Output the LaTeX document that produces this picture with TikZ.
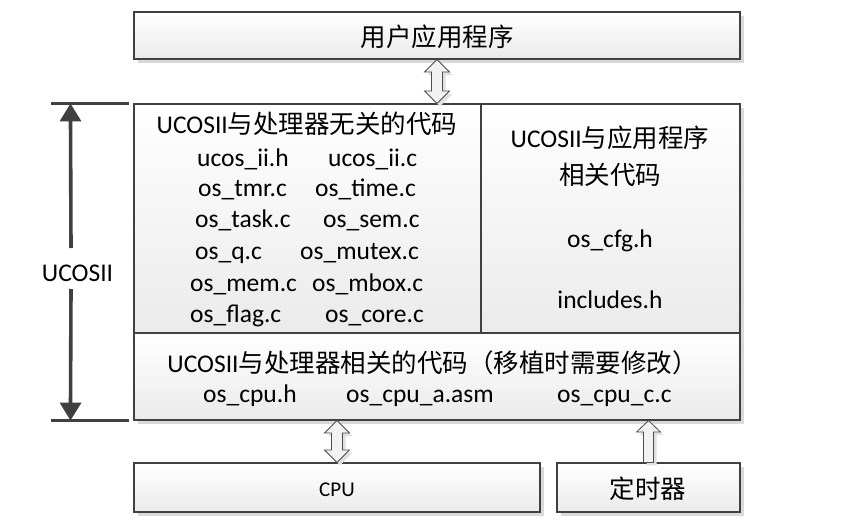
\documentclass[tikz,border=0pt]{standalone}
\usepackage{fontspec}
\setmainfont{Carlito}
\newfontfamily\cjk{Noto Sans CJK SC}
\usetikzlibrary{arrows.meta,calc,shadows}
\tikzset{
  frame/.style={draw=black!75, line width=1.1pt, top color=white, bottom color=black!8,
    inner sep=0pt, drop shadow={shadow xshift=4pt, shadow yshift=-4pt, fill=black!15, opacity=1}},
  txt/.style={inner sep=0pt, anchor=base, font=\fontsize{25.5}{30}\selectfont},
  txtw/.style={txt, anchor=base west},
  blockarrow/.style={draw=black!70, line width=0.8pt, fill=black!5, line join=miter,
    drop shadow={shadow xshift=3pt, shadow yshift=-3pt, fill=black!12, opacity=1}},
  dimbar/.style={draw=black!75, line width=3.6pt, line cap=butt},
  dimarrow/.style={draw=black!75, line width=3.6pt, -{Triangle[length=18pt,width=21pt]}},
}
\newcommand\dblarrow[2]{%
  \path[blockarrow] (#1) -- ($(#1)+(12.5,12.5)$) -- ($(#1)+(5.5,12.5)$) -- ($(#2)+(5.5,-12.5)$)
    -- ($(#2)+(12.5,-12.5)$) -- (#2) -- ($(#2)+(-12.5,-12.5)$) -- ($(#2)+(-5.5,-12.5)$)
    -- ($(#1)+(-5.5,12.5)$) -- ($(#1)+(-12.5,12.5)$) -- cycle;}
\newcommand\singlearrow[2]{%
  \path[blockarrow] (#1) -- ($(#1)+(12,11.5)$) -- ($(#1)+(5,11.5)$) -- ($(#2)+(5,0)$)
    -- ($(#2)+(-5,0)$) -- ($(#1)+(-5,11.5)$) -- ($(#1)+(-12,11.5)$) -- cycle;}
\begin{document}
\begin{tikzpicture}[x=1pt,y=-1pt]
\useasboundingbox[fill=white] (0,0) rectangle (862,532);

% boxes
\node[frame, minimum width=606pt, minimum height=47pt] (app) at (437,35.5) {};
\node[frame, minimum width=347pt, minimum height=229pt] (indep) at (307.5,218.5) {};
\node[frame, minimum width=259pt, minimum height=229pt] (appdep) at (610.5,218.5) {};
\node[frame, minimum width=606pt, minimum height=87pt] (port) at (437,376.5) {};
\node[frame, minimum width=406pt, minimum height=49pt] (cpu) at (337,487.5) {};
\node[frame, minimum width=183pt, minimum height=49pt] (timer) at (648.5,487.5) {};

% connectors
\dblarrow{app.south}{app.south |- indep.north}
\dblarrow{cpu.north |- port.south}{cpu.north}
\singlearrow{timer.north |- port.south}{timer.north}

% texts
\node[txt] (tapp) at (437,47) {\cjk 用户应用程序};
\node[txt] (hindep) at (307,134) {UCOSII{\cjk 与处理器无关的代码}};
\node[txtw] (f1a) at (197,166) {ucos\_ii.h};
\node[txtw] (f1b) at (328,166) {ucos\_ii.c};
\node[txtw] (f2a) at (198,196) {os\_tmr.c};
\node[txtw] (f2b) at (315,196) {os\_time.c};
\node[txtw] (f3a) at (195,227) {os\_task.c};
\node[txtw] (f3b) at (323,227) {os\_sem.c};
\node[txtw] (f4a) at (195,259) {os\_q.c};
\node[txtw] (f4b) at (300,259) {os\_mutex.c};
\node[txtw] (f5a) at (190,291) {os\_mem.c};
\node[txtw] (f5b) at (312,291) {os\_mbox.c};
\node[txtw] (f6a) at (190,322) {os\_flag.c};
\node[txtw] (f6b) at (325,322) {os\_core.c};

\node[txt] (happ1) at (610,148) {UCOSII{\cjk 与应用程序}};
\node[txt] (happ2) at (610,184) {\cjk 相关代码};
\node[txt] (fcfg) at (610,247) {os\_cfg.h};
\node[txt] (finc) at (610,308) {includes.h};

\node[txt] (hport) at (432.5,372) {UCOSII{\cjk 与处理器相关的代码（移植时需要修改）}};
\node[txtw] (p1) at (203,402) {os\_cpu.h};
\node[txtw] (p2) at (346,402) {os\_cpu\_a.asm};
\node[txtw] (p3) at (557,402) {os\_cpu\_c.c};

\node[txt, font=\fontsize{21}{24}\selectfont] (tcpu) at (337,496) {CPU};
\node[txt] (ttimer) at (648,498) {\cjk 定时器};

% dimension on the left
\coordinate (bartl) at ($(indep.north west)+(-82,0)$);
\coordinate (bartr) at ($(indep.north west)+(-4,0)$);
\coordinate (barbl) at ($(port.south west)+(-82,0)$);
\coordinate (barbr) at ($(port.south west)+(-4,0)$);
\draw[dimbar] (bartl) -- (bartr);
\draw[dimbar] (barbl) -- (barbr);
\node[txt] (lbl) at (77.5,281) {UCOSII};
\coordinate (atop) at ($(indep.north west)+(-63,0)$);
\coordinate (abot) at ($(port.south west)+(-63,0)$);
\coordinate (lu) at (71,248);
\coordinate (ld) at (71,289);
\draw[dimarrow] (lu) -- (atop);
\draw[dimarrow] (ld) -- (abot);
\end{tikzpicture}
\end{document}
